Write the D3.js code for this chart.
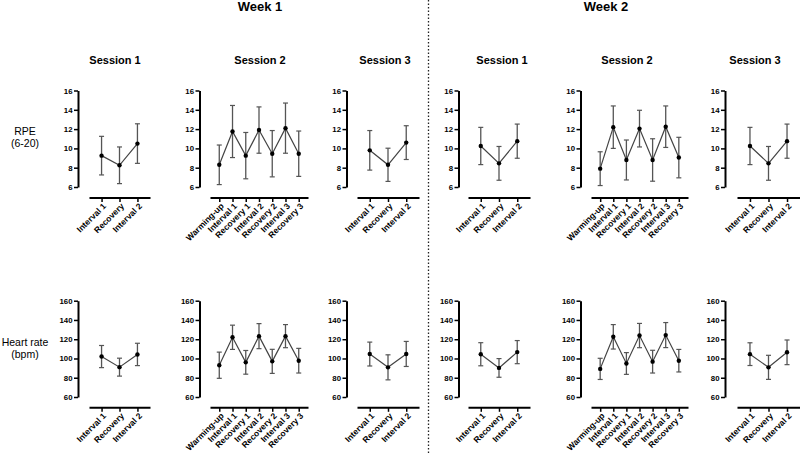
<!DOCTYPE html>
<html>
<head>
<meta charset="utf-8">
<script src="https://cdn.jsdelivr.net/npm/d3@7"></script>
<style>
  body { margin: 0; background: #fff; }
  svg { display: block; font-family: "Liberation Sans", Arial, sans-serif; }
</style>
</head>
<body>
<div id="chart"></div>
<script>
// Tick labels / categories
var weeks = ["Week 1", "Week 2"];
var sessions = ["Session 1", "Session 2", "Session 3"];
var shortPhases = ["Interval 1", "Recovery", "Interval 2"];
var longPhases = ["Warming-up", "Interval 1", "Recovery 1", "Interval 2", "Recovery 2", "Interval 3", "Recovery 3"];
var rpeTicks = [6, 8, 10, 12, 14, 16];
var hrTicks = [60, 80, 100, 120, 140, 160];

// RPE (6-20): mean and SD per session
var rpeW1S1Mean = [9.25, 8.25, 10.5],  rpeW1S1Sd = [2.0, 1.9, 2.05];
var rpeW1S2Mean = [8.3, 11.75, 9.25, 11.9, 9.45, 12.1, 9.45], rpeW1S2Sd = [2.05, 2.7, 2.4, 2.4, 2.4, 2.6, 2.35];
var rpeW1S3Mean = [9.8, 8.3, 10.6],   rpeW1S3Sd = [2.05, 1.72, 1.75];
var rpeW2S1Mean = [10.25, 8.45, 10.75], rpeW2S1Sd = [1.93, 1.75, 1.77];
var rpeW2S2Mean = [7.9, 12.2, 8.8, 12.05, 8.8, 12.25, 9.05], rpeW2S2Sd = [1.75, 2.2, 2.07, 1.9, 2.2, 2.15, 2.1];
var rpeW2S3Mean = [10.25, 8.45, 10.75], rpeW2S3Sd = [1.93, 1.75, 1.77];

// Heart rate (bpm): mean and SD per session
var hrW1S1Mean = [102, 91, 104.2],  hrW1S1Sd = [11.5, 9.3, 11.6];
var hrW1S2Mean = [93, 122, 96, 123.2, 97, 123.2, 97.7], hrW1S2Sd = [13.6, 12.6, 12.3, 13, 12.5, 12, 12.8];
var hrW1S3Mean = [104.6, 90.8, 104.7], hrW1S3Sd = [12.4, 13, 13];
var hrW2S1Mean = [104.4, 90.2, 106.6], hrW2S1Sd = [12, 9.7, 12];
var hrW2S2Mean = [89.2, 122.5, 94.8, 123.8, 96.7, 124.3, 97.7], hrW2S2Sd = [11, 12.7, 11.3, 12.6, 11.8, 13, 11.7];
var hrW2S3Mean = [104.5, 90.8, 106.4], hrW2S3Sd = [11.8, 12.5, 12.8];

var width = 800, height = 453;

// panel layout (x axis range, y axis position, title centre)
var panels = [
  {title: sessions[0], phases: shortPhases, x0: 89,  x1: 150, yAxisX: 78,    titleX: 115, rpe: [rpeW1S1Mean, rpeW1S1Sd], hr: [hrW1S1Mean, hrW1S1Sd]},
  {title: sessions[1], phases: longPhases,  x0: 210, x1: 308, yAxisX: 199.5, titleX: 260, rpe: [rpeW1S2Mean, rpeW1S2Sd], hr: [hrW1S2Mean, hrW1S2Sd]},
  {title: sessions[2], phases: shortPhases, x0: 357, x1: 419, yAxisX: 346.5, titleX: 385, rpe: [rpeW1S3Mean, rpeW1S3Sd], hr: [hrW1S3Mean, hrW1S3Sd]},
  {title: sessions[0], phases: shortPhases, x0: 468, x1: 530, yAxisX: 458.5, titleX: 502, rpe: [rpeW2S1Mean, rpeW2S1Sd], hr: [hrW2S1Mean, hrW2S1Sd]},
  {title: sessions[1], phases: longPhases,  x0: 591, x1: 688, yAxisX: 580.5, titleX: 627, rpe: [rpeW2S2Mean, rpeW2S2Sd], hr: [hrW2S2Mean, hrW2S2Sd]},
  {title: sessions[2], phases: shortPhases, x0: 737, x1: 800, yAxisX: 725,   titleX: 755, rpe: [rpeW2S3Mean, rpeW2S3Sd], hr: [hrW2S3Mean, hrW2S3Sd]}
];

var rows = [
  {key: "rpe", domain: [6, 16],   ticks: rpeTicks, range: [187, 90.5], axisY: 197.5, label: ["RPE", "(6-20)"],      labelY: 135},
  {key: "hr",  domain: [60, 160], ticks: hrTicks,  range: [397, 300.7], axisY: 407.3, label: ["Heart rate", "(bpm)"], labelY: 346}
];

var svg = d3.select("#chart").append("svg")
    .attr("width", width)
    .attr("height", height);

// Week titles
svg.selectAll(".week-title")
  .data(weeks)
  .enter().append("text")
    .attr("class", "week-title")
    .attr("x", function(d, i) { return [260, 606][i]; })
    .attr("y", 11)
    .attr("text-anchor", "middle")
    .style("font-size", "13px")
    .style("font-weight", "bold")
    .text(function(d) { return d; });

// Dotted separator between weeks
svg.append("line")
    .attr("x1", 428.5).attr("x2", 428.5)
    .attr("y1", 0).attr("y2", height)
    .attr("stroke", "#222")
    .attr("stroke-width", 1.3)
    .attr("stroke-dasharray", "1.5,2");

// Session titles
svg.selectAll(".session-title")
  .data(panels)
  .enter().append("text")
    .attr("class", "session-title")
    .attr("x", function(d) { return d.titleX; })
    .attr("y", 64)
    .attr("text-anchor", "middle")
    .style("font-size", "11px")
    .style("font-weight", "bold")
    .text(function(d) { return d.title; });

rows.forEach(function(row) {
  // Row label
  var lab = svg.append("text")
      .attr("x", 25)
      .attr("y", row.labelY)
      .attr("text-anchor", "middle")
      .style("font-size", "10.5px");
  lab.selectAll("tspan")
    .data(row.label)
    .enter().append("tspan")
      .attr("x", 25)
      .attr("dy", function(d, i) { return i ? 12 : 0; })
      .text(function(d) { return d; });

  var y = d3.scaleLinear().domain(row.domain).range(row.range);

  panels.forEach(function(p) {
    var x = d3.scalePoint().domain(p.phases).range([p.x0, p.x1]).padding(0.7);
    var means = p[row.key][0], sds = p[row.key][1];
    var pts = p.phases.map(function(ph, i) { return {phase: ph, mean: means[i], sd: sds[i]}; });

    var g = svg.append("g");

    // y axis
    var ya = g.append("g")
        .attr("transform", "translate(" + p.yAxisX + ",0)")
        .call(d3.axisLeft(y).tickValues(row.ticks).tickSize(4).tickSizeOuter(0).tickPadding(1.5));
    ya.select(".domain").attr("stroke-width", 2);
    ya.selectAll(".tick line").attr("stroke-width", 1.5);
    ya.selectAll(".tick text")
        .style("font-size", "7.8px")
        .style("font-weight", "bold")
        .attr("fill", "#000");

    // x axis
    var xa = g.append("g")
        .attr("transform", "translate(0," + row.axisY + ")")
        .call(d3.axisBottom(x).tickSize(4.5).tickSizeOuter(0));
    xa.select(".domain").attr("stroke-width", 2);
    xa.selectAll(".tick line").attr("stroke-width", 1.5);
    xa.selectAll(".tick text")
        .style("font-size", "8.5px")
        .style("font-weight", "bold")
        .attr("fill", "#000")
        .attr("text-anchor", "end")
        .attr("y", 0).attr("dy", "0.35em")
        .attr("transform", "translate(2.5,7) rotate(-45)");

    // error bars
    var eb = g.selectAll(".err").data(pts).enter().append("g").attr("class", "err");
    eb.append("line")
        .attr("x1", function(d) { return x(d.phase); })
        .attr("x2", function(d) { return x(d.phase); })
        .attr("y1", function(d) { return y(d.mean - d.sd); })
        .attr("y2", function(d) { return y(d.mean + d.sd); })
        .attr("stroke", "#555").attr("stroke-width", 1.3);
    [-1, 1].forEach(function(s) {
      eb.append("line")
          .attr("x1", function(d) { return x(d.phase) - 2.5; })
          .attr("x2", function(d) { return x(d.phase) + 2.5; })
          .attr("y1", function(d) { return y(d.mean + s * d.sd); })
          .attr("y2", function(d) { return y(d.mean + s * d.sd); })
          .attr("stroke", "#555").attr("stroke-width", 1.2);
    });

    // mean line
    g.append("path")
        .datum(pts)
        .attr("fill", "none")
        .attr("stroke", "#444")
        .attr("stroke-width", 1.2)
        .attr("d", d3.line()
          .x(function(d) { return x(d.phase); })
          .y(function(d) { return y(d.mean); }));

    g.selectAll(".dot").data(pts).enter().append("circle")
        .attr("class", "dot")
        .attr("cx", function(d) { return x(d.phase); })
        .attr("cy", function(d) { return y(d.mean); })
        .attr("r", 2.2)
        .attr("fill", "#000");
  });
});
</script>
</body>
</html>
